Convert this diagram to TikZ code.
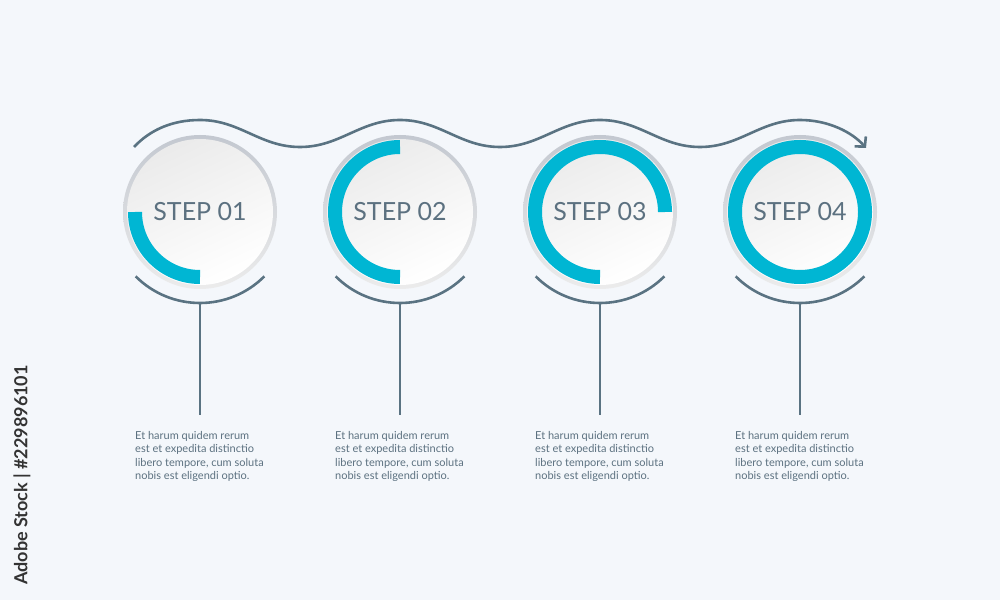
\documentclass[tikz,border=0pt]{standalone}
\usepackage{fontspec}
\setmainfont{Lato}
\usetikzlibrary{
		calc,
		positioning,
		arrows.meta
	}
\definecolor{stepblue}{HTML}{00B6D3}
\definecolor{slate}{HTML}{5A7382}
\definecolor{paper}{HTML}{F4F7FB}
\definecolor{txtgray}{HTML}{5C7180}
\definecolor{rimgray}{HTML}{C3C8D0}
\tikzset{
		>=stealth,
		stepdisc/.style={circle, minimum size=146pt, inner sep=0pt, text=txtgray, font=\fontsize{25}{25}\selectfont},
		stepnote/.style={anchor=north west, inner sep=0pt, align=left, text=txtgray, font=\fontsize{11}{13.4}\selectfont},
		progress/.style={draw=stepblue, line width=14pt},
		guide/.style={draw=slate, line width=2.6pt}
	}

\begin{document}
\begin{tikzpicture}[x=1pt, y=1pt]
		\fill[paper] (0,0) rectangle (1000,600);
		\useasboundingbox (0,0) rectangle (1000,600);
		% wave over the steps
		\coordinate (wstart) at (134,453);
		\coordinate (wend) at (866,452);
		\draw[guide, -{Straight Barb[length=7pt, width=15pt]}] (wstart) .. controls (150,470) and (172,480) .. (200,480)
			.. controls (240,480) and (260,453) .. (300,453)
			.. controls (340,453) and (360,480) .. (400,480)
			.. controls (440,480) and (460,453) .. (500,453)
			.. controls (540,453) and (560,480) .. (600,480)
			.. controls (640,480) and (660,453) .. (700,453)
			.. controls (740,453) and (760,480) .. (800,480)
			.. controls (828,480) and (852,468) .. (wend);
		% step 01
		\shade[top color=rimgray, bottom color=gray!15] (200,388) circle (77pt);
		\shade[top color=gray!16, bottom color=white, shading angle=25] (200,388) circle (73pt);
		\draw[progress] ($(200,388)+(180:65)$) arc (180:270:65);
		\node[stepdisc] (s1) at (200,388) {STEP 01};
		\coordinate (b1) at ($(s1)+(0,-91)$);
		\draw[guide] ($(s1)+(225:91)$) arc (225:315:91);
		\node[stepnote] (t1) at (135,169) {Et harum quidem rerum\\est et expedita distinctio\\libero tempore, cum soluta\\nobis est eligendi optio.};
		\draw[guide] (b1) -- ($(b1 |- t1.north)+(0,16)$);
		% step 02
		\shade[top color=rimgray, bottom color=gray!15] (400,388) circle (77pt);
		\shade[top color=gray!16, bottom color=white, shading angle=25] (400,388) circle (73pt);
		\draw[progress] ($(400,388)+(90:65)$) arc (90:270:65);
		\node[stepdisc] (s2) at (400,388) {STEP 02};
		\coordinate (b2) at ($(s2)+(0,-91)$);
		\draw[guide] ($(s2)+(225:91)$) arc (225:315:91);
		\node[stepnote] (t2) at (335,169) {Et harum quidem rerum\\est et expedita distinctio\\libero tempore, cum soluta\\nobis est eligendi optio.};
		\draw[guide] (b2) -- ($(b2 |- t2.north)+(0,16)$);
		% step 03
		\shade[top color=rimgray, bottom color=gray!15] (600,388) circle (77pt);
		\shade[top color=gray!16, bottom color=white, shading angle=25] (600,388) circle (73pt);
		\draw[progress] ($(600,388)+(0:65)$) arc (0:270:65);
		\node[stepdisc] (s3) at (600,388) {STEP 03};
		\coordinate (b3) at ($(s3)+(0,-91)$);
		\draw[guide] ($(s3)+(225:91)$) arc (225:315:91);
		\node[stepnote] (t3) at (535,169) {Et harum quidem rerum\\est et expedita distinctio\\libero tempore, cum soluta\\nobis est eligendi optio.};
		\draw[guide] (b3) -- ($(b3 |- t3.north)+(0,16)$);
		% step 04
		\shade[top color=rimgray, bottom color=gray!15] (800,388) circle (77pt);
		\shade[top color=gray!16, bottom color=white, shading angle=25] (800,388) circle (73pt);
		\draw[progress] (800,388) circle (65pt);
		\node[stepdisc] (s4) at (800,388) {STEP 04};
		\coordinate (b4) at ($(s4)+(0,-91)$);
		\draw[guide] ($(s4)+(225:91)$) arc (225:315:91);
		\node[stepnote] (t4) at (735,169) {Et harum quidem rerum\\est et expedita distinctio\\libero tempore, cum soluta\\nobis est eligendi optio.};
		\draw[guide] (b4) -- ($(b4 |- t4.north)+(0,16)$);
		% side mark
		\node[rotate=90, text=black!80, font=\fontsize{18}{18}\selectfont\bfseries] (mark) at (22,125) {Adobe Stock | \#229896101};
	\end{tikzpicture}
\end{document}
